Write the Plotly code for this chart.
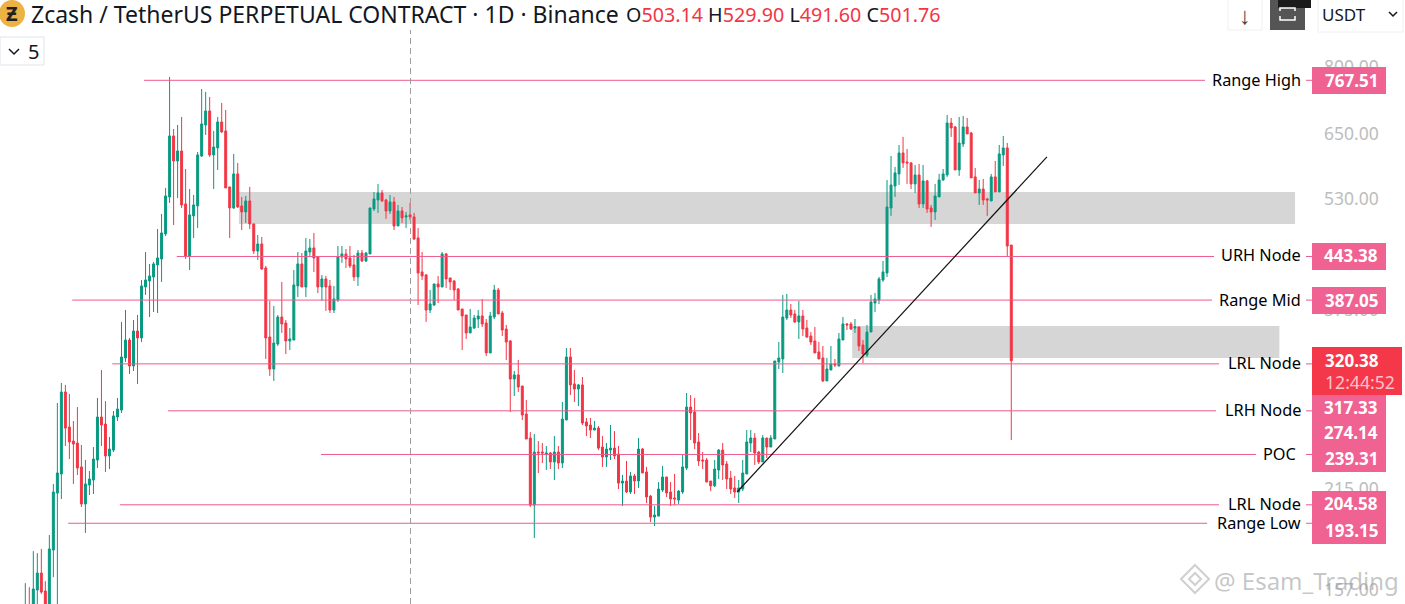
import plotly.graph_objects as go

# 1. Candles (1D, oldest first)
opens = [146.5,149.3,146.5,156.9,165.4,156.4,147.4,177.7,212.2,225.2,
 290.7,260.7,249.5,248.0,230.2,205.1,217.6,221.0,235.2,268.9,
 263.1,238.2,242.6,268.9,274.8,323.2,341.8,315.2,351.5,344.0,
 403.2,410.8,416.0,431.9,440.0,475.6,533.7,645.4,597.0,615.9,
 522.2,444.1,503.1,519.0,606.4,667.8,697.6,608.3,621.7,674.1,
 655.5,550.6,515.7,573.4,519.0,509.4,527.1,490.7,451.0,461.0,
 427.8,345.0,312.3,337.6,367.2,360.4,340.8,341.8,404.5,433.2,
 403.2,449.6,455.3,442.7,403.2,413.4,404.5,375.3,387.2,442.7,
 446.9,441.4,431.9,416.0,448.2,437.2,446.9,514.1,528.7,540.4,
 528.7,510.9,525.5,487.6,510.9,501.5,504.7,501.5,469.7,422.5,
 418.6,375.3,381.2,407.0,403.2,446.9,414.7,410.8,400.7,376.5,
 369.5,349.4,354.8,364.9,368.4,360.4,328.3,367.2,399.4,371.8,
 353.7,340.8,302.7,306.6,296.2,271.4,251.9,204.4,241.1,241.1,
 239.6,240.4,233.8,241.1,233.0,266.4,324.2,298.1,293.4,297.2,
 264.8,262.3,258.2,259.8,244.9,237.4,242.6,244.1,239.6,218.9,
 220.3,212.9,223.8,220.3,243.4,226.6,210.2,196.9,197.5,214.2,
 223.1,212.9,209.0,207.6,212.9,229.4,277.4,273.1,248.8,235.2,
 235.2,220.3,217.0,228.0,242.6,232.3,222.4,215.6,212.9,214.9,
 225.2,248.0,251.9,241.1,233.8,251.9,244.9,251.1,319.2,322.2,
 366.1,375.3,370.7,361.6,368.4,354.8,346.1,340.8,329.3,323.2,
 300.9,311.3,317.2,315.2,341.8,359.3,359.3,354.8,356.0,336.6,
 326.2,350.4,383.6,387.2,412.1,421.2,515.7,552.3,573.4,612.1,
 595.1,593.3,555.8,571.6,522.2,561.0,515.7,509.4,533.7,562.7,
 571.6,672.0,663.7,580.5,629.4,663.7,651.4,568.1,540.4,547.1,
 530.4,527.1,568.1,542.1,608.3,621.7,459.5]
highs = [160.3,158.3,177.1,176.0,178.3,161.3,186.2,218.3,280.9,299.0,
 297.2,288.9,265.6,277.4,246.5,235.2,227.3,244.9,285.3,311.3,
 282.6,252.7,274.0,285.3,361.6,375.3,344.0,363.8,369.5,412.1,
 449.6,433.2,435.9,483.0,506.2,548.9,775.6,659.5,667.8,684.7,
 582.3,547.1,537.0,614.0,747.0,740.2,728.7,655.5,684.7,715.2,
 699.7,550.6,610.2,593.3,533.7,535.4,550.6,490.7,474.1,471.2,
 430.5,386.0,380.0,369.5,409.6,363.8,354.8,425.1,449.6,448.2,
 469.7,468.2,477.1,444.1,418.6,417.3,412.1,404.5,458.1,458.1,
 453.8,458.1,445.5,452.4,452.4,449.6,515.7,542.1,555.8,545.4,
 530.4,537.0,533.7,520.6,517.3,509.4,523.8,507.8,484.6,449.6,
 419.9,399.4,407.0,417.3,449.6,448.2,414.7,412.1,402.0,376.5,
 369.5,376.5,369.5,375.3,388.4,364.9,373.0,405.8,402.0,374.2,
 358.2,341.8,310.4,321.2,296.2,283.5,256.6,255.0,249.5,248.0,
 245.7,241.1,253.4,245.7,281.8,333.4,333.4,311.3,298.1,304.6,
 268.1,268.1,265.6,261.5,253.4,248.0,262.3,257.4,245.7,224.5,
 234.5,226.6,225.2,251.9,244.1,230.2,210.9,203.8,219.6,230.9,
 223.1,219.6,225.2,214.2,238.9,289.8,288.0,285.3,255.8,241.1,
 236.7,220.3,235.2,243.4,248.0,234.5,227.3,223.8,221.0,235.2,
 258.2,258.2,255.8,241.8,254.2,251.9,254.2,320.2,339.7,393.3,
 394.5,382.4,375.3,386.0,375.3,363.8,350.4,356.0,339.7,335.5,
 323.2,335.5,322.2,349.4,367.2,360.4,361.6,364.9,356.0,341.8,
 358.2,393.3,395.7,416.0,437.2,562.7,606.4,586.0,627.5,643.4,
 619.7,595.1,589.6,591.5,589.6,562.7,520.6,555.8,573.4,582.3,
 689.0,682.6,665.8,684.7,686.9,682.6,653.5,584.2,562.7,564.5,
 532.0,573.4,597.0,627.5,645.4,631.4,459.5]
lows = [142.9,140.7,142.9,147.4,155.0,142.9,140.7,163.3,147.4,208.3,
 245.7,235.9,218.3,224.5,203.2,187.4,210.9,211.6,229.4,245.7,
 226.6,228.7,241.1,265.6,272.3,319.2,307.5,310.4,298.1,339.7,
 393.3,367.2,373.0,371.8,409.6,472.6,523.8,489.1,532.0,515.7,
 440.0,425.1,469.7,484.6,604.5,647.4,604.5,547.1,580.5,651.4,
 548.9,469.7,514.1,515.7,481.5,492.2,483.0,446.9,438.6,425.1,
 322.2,305.6,300.9,335.5,349.4,327.2,331.3,341.8,390.8,403.2,
 390.8,444.1,422.5,395.7,386.0,374.2,371.8,371.8,384.8,434.6,
 427.8,427.8,410.8,404.5,435.9,435.9,446.9,510.9,507.8,525.5,
 498.4,506.2,481.5,487.6,492.2,484.6,496.8,466.7,381.2,412.1,
 361.6,371.8,380.0,383.6,403.2,402.0,399.4,387.2,375.3,331.3,
 342.9,349.4,353.7,354.8,356.0,325.2,328.3,364.9,370.7,346.1,
 321.2,273.1,287.1,290.7,266.4,251.1,203.2,184.5,225.9,233.0,
 228.0,228.7,221.0,228.7,229.4,266.4,288.0,281.8,278.3,262.3,
 253.4,251.9,258.2,242.6,230.2,230.2,235.2,235.9,214.9,203.8,
 212.2,211.6,211.6,215.6,225.9,205.7,193.9,191.5,197.5,212.9,
 209.6,203.8,204.4,205.1,211.6,228.0,250.3,243.4,230.9,228.7,
 219.6,213.5,216.2,221.7,221.0,214.9,211.6,209.0,205.7,213.5,
 225.2,241.1,231.6,232.3,233.8,236.7,244.9,251.1,312.3,308.4,
 363.8,366.1,360.4,342.9,346.1,344.0,336.6,328.3,322.2,299.9,
 300.9,311.3,314.3,315.2,341.8,352.6,352.6,349.4,330.3,318.2,
 324.2,350.4,373.0,382.4,409.6,416.0,503.1,533.7,554.0,584.2,
 555.8,547.1,540.4,515.7,515.7,507.8,486.1,496.8,533.7,561.0,
 568.1,643.4,580.5,569.9,623.6,649.4,566.3,540.4,520.6,520.6,
 503.1,527.1,542.1,542.1,587.8,444.1,250.3]
closes = [149.7,145.1,157.4,165.4,155.9,147.4,178.3,212.9,225.9,290.7,
 259.8,248.8,247.2,229.4,205.1,218.3,221.7,235.9,268.9,262.3,
 238.2,243.4,269.8,275.7,324.2,341.8,315.2,351.5,344.0,404.5,
 412.1,417.3,433.2,441.4,477.1,535.4,645.4,597.0,615.9,520.6,
 444.1,504.7,520.6,608.3,670.0,697.6,608.3,623.6,674.1,653.5,
 548.9,515.7,573.4,517.3,509.4,527.1,490.7,451.0,461.0,426.5,
 344.0,312.3,338.6,367.2,359.3,340.8,342.9,405.8,433.2,403.2,
 451.0,455.3,441.4,403.2,413.4,403.2,375.3,388.4,442.7,446.9,
 440.0,430.5,416.0,448.2,437.2,448.2,515.7,530.4,540.4,527.1,
 510.9,525.5,487.6,510.9,500.0,503.1,501.5,468.2,421.2,417.3,
 375.3,382.4,407.0,403.2,446.9,413.4,409.6,399.4,375.3,368.4,
 349.4,356.0,366.1,368.4,359.3,328.3,368.4,399.4,370.7,352.6,
 339.7,302.7,306.6,295.3,270.6,251.1,204.4,241.1,240.4,240.4,
 240.4,233.8,241.1,233.0,267.2,324.2,297.2,293.4,297.2,263.9,
 261.5,258.2,259.8,244.1,237.4,243.4,244.1,238.2,218.9,220.3,
 212.9,223.8,220.3,243.4,225.9,209.6,196.9,198.2,214.9,223.1,
 212.2,208.3,208.3,213.5,230.2,277.4,272.3,248.0,234.5,234.5,
 219.6,217.0,228.7,242.6,231.6,221.7,214.9,212.9,215.6,225.9,
 248.8,251.9,240.4,233.8,251.9,244.9,251.9,320.2,323.2,367.2,
 375.3,369.5,361.6,368.4,353.7,345.0,339.7,328.3,322.2,300.9,
 312.3,317.2,316.2,342.9,359.3,358.2,353.7,356.0,335.5,327.2,
 350.4,384.8,388.4,413.4,422.5,517.3,554.0,575.2,612.1,593.3,
 593.3,555.8,571.6,522.2,561.0,514.1,509.4,535.4,562.7,573.4,
 672.0,661.7,580.5,631.4,663.7,649.4,566.3,540.4,547.1,528.7,
 528.7,568.1,542.1,610.2,621.7,458.1,320.38]

# 2. Drawn levels
level_names = ["Range High", "URH Node", "Range Mid", "LRL Node", "LRH Node", "POC", "LRL Node", "Range Low"]
level_prices = [767.51, 443.38, 387.05, 317.33, 274.14, 239.31, 204.58, 193.15]
level_start_bars = [29.6, 37.8, 11.7, 21.7, 35.6, 73.8, 23.6, 10.7]

price_ticks = [800, 650, 530, 375, 215, 157]
zone_prices = [(490.7, 542.1), (323.2, 357.1)]
zone_start_bars = [53.3, 206.3]
zone_end_bars = [316.8, 312.9]
trend_bars = [177.6, 254.9]
trend_prices = [212.9, 604.5]
last_price = 320.38
countdown = "12:44:52"

GREEN = "#089981"
RED = "#F23645"
PINK = "#F06292"
LINE_PINK = "#EE5A8C"
FONT = "Noto Sans"

# chart geometry in page pixels
PLOT_W = 1320
PLOT_H = 604
BAR0_PX = 25.3
BAR_PX = 4.008


def bar_at(px):
    return (px - BAR0_PX) / BAR_PX


def fx(px):
    return px / PLOT_W


def fy(py):
    return 1 - py / PLOT_H


fig = go.Figure()
fig.add_trace(go.Candlestick(
    x=list(range(len(opens))), open=opens, high=highs, low=lows, close=closes,
    increasing=dict(line=dict(color=GREEN, width=1), fillcolor=GREEN),
    decreasing=dict(line=dict(color=RED, width=1), fillcolor=RED),
    whiskerwidth=0, hoverinfo="skip", showlegend=False,
))

# level rays, with the short tick that sits in front of the price tag
level_end_px = [1205, 1214, 1212, 1219, 1216, 1256, 1219, 1207]
for start, price, end_px in zip(level_start_bars, level_prices, level_end_px):
    fig.add_trace(go.Scatter(x=[start, bar_at(end_px)], y=[price, price], mode="lines",
                             line=dict(color=LINE_PINK, width=1), hoverinfo="skip", showlegend=False))
    fig.add_trace(go.Scatter(x=[bar_at(1306), bar_at(1312)], y=[price, price], mode="lines",
                             line=dict(color=LINE_PINK, width=1), hoverinfo="skip", showlegend=False))

fig.add_trace(go.Scatter(x=trend_bars, y=trend_prices, mode="lines",
                         line=dict(color="#111111", width=1.2), hoverinfo="skip", showlegend=False))

shapes = []
for (lo, hi), b0, b1 in zip(zone_prices, zone_start_bars, zone_end_bars):
    shapes.append(dict(type="rect", xref="x", yref="y", x0=b0, x1=b1, y0=lo, y1=hi,
                       fillcolor="#D6D6D6", line_width=0, layer="below"))

# crosshair
shapes.append(dict(type="line", xref="x", yref="paper", x0=bar_at(410.5), x1=bar_at(410.5), y0=0, y1=fy(30),
                   line=dict(color="#9E9E9E", width=1, dash="6px,4px")))


def box(x0, y0, x1, y1, fill, line="rgba(0,0,0,0)", width=0):
    shapes.append(dict(type="rect", xref="paper", yref="paper", x0=fx(x0), x1=fx(x1), y0=fy(y1), y1=fy(y0),
                       fillcolor=fill, line=dict(color=line, width=width)))


def path(points, color, width=1.5, fill=None):
    d = "M " + " L ".join(f"{fx(x)},{fy(y)}" for x, y in points)
    if fill:
        d += " Z"
    shapes.append(dict(type="path", xref="paper", yref="paper", path=d, fillcolor=fill,
                       line=dict(color=color, width=width)))


annotations = []


def label(text, x, y, size, color="#131722", anchor="left"):
    annotations.append(dict(text=text, xref="paper", yref="paper", x=fx(x), y=fy(y), xanchor=anchor, yanchor="middle",
                            showarrow=False, font=dict(family=FONT, size=size, color=color)))


# price tags on the right
level_tag_boxes = [(67, 94), (243, 270), (287, 314), (394, 421), (421, 447), (447, 472), (491, 518), (518, 544)]
level_tag_ys = [80, 256, 300, 407.5, 432.5, 458.5, 503.5, 530]
level_label_ys = [79.5, 255.5, 299.5, 362.5, 409.5, 453.5, 503.5, 522.5]
for name, price, (t, b), ty, ly in zip(level_names, level_prices, level_tag_boxes, level_tag_ys, level_label_ys):
    box(1312, t, 1386, b, PINK)
    label(f"<b>{price:.2f}</b>", 1351, ty, 17, "white", "center")
    label(name, 1298 if name == "POC" else 1303, ly, 16.3, "#000000", "right")

box(1312, 347, 1402, 395, "#F4384A")
label(f"<b>{last_price:.2f}</b>", 1323, 360.5, 17, "white")
label(countdown, 1323, 382, 17.6, "#FBC4CA")

# header and small chart buttons
shapes.append(dict(type="circle", xref="paper", yref="paper", x0=fx(-1), x1=fx(25), y0=fy(27), y1=fy(0),
                   fillcolor="#ECB244", line_width=0))
label("<b>Ƶ</b>", 12, 13, 20, "#222222", "center")
label("Zcash / TetherUS PERPETUAL CONTRACT · 1D · Binance", 29, 14, 23, "#131722")
label(f"O<span style='color:{RED}'>503.14</span> H<span style='color:{RED}'>529.90</span> "
      f"L<span style='color:{RED}'>491.60</span> C<span style='color:{RED}'>501.76</span>", 624, 14, 19.7)

box(0, 37, 44, 65, "white", "#E0E3EB", 1)
path([(9, 49), (14, 54), (19, 49)], "#131722")
label("5", 33, 51, 20, "#131722", "center")

box(1228, -6, 1262, 30, "white", "#F0F0F0", 1)
label("↓", 1245, 14, 24, "#444444", "center")
box(1270, -6, 1305, 30, "#555555")
box(1278, 0, 1311, 8, "#1B1B1B")
path([(1280, 11), (1280, 8), (1295, 8), (1295, 11)], "white")
path([(1280, 16), (1280, 20), (1295, 20), (1295, 16)], "white")
box(1318, -6, 1403, 32, "white", "#F0F0F0", 1)
label("USDT", 1320, 14, 17, "#131722")
path([(1389, 12), (1393, 16), (1397, 12)], "#131722")

# watermark
label("@ Esam_Trading", 1212, 580, 24, "rgba(150,150,150,0.55)")
path([(1195, 565), (1209, 579), (1195, 593), (1181, 579)], "rgba(170,170,170,0.55)", 2, "rgba(255,255,255,0)")
path([(1195, 573), (1201, 579), (1195, 585), (1189, 579)], "rgba(170,170,170,0.55)", 2, "rgba(255,255,255,0)")

fig.update_layout(
    width=1405, height=604,
    margin=dict(l=0, r=1405 - PLOT_W, t=0, b=0),
    paper_bgcolor="white", plot_bgcolor="white",
    showlegend=False, shapes=shapes, annotations=annotations,
    xaxis=dict(range=[bar_at(0), bar_at(PLOT_W)], visible=False, rangeslider=dict(visible=False)),
    yaxis=dict(type="log", side="right", range=[2.17667, 2.99371], showgrid=False, zeroline=False,
               showline=False, tickmode="array", tickvals=price_ticks,
               ticktext=[f"{t:.2f}" for t in price_ticks], ticks="", ticklabelstandoff=3,
               tickfont=dict(family=FONT, size=17.5, color="#BDBDBD"), autorange=False),
)

fig.write_html("out.html", config=dict(displayModeBar=False),
               post_script="document.body.style.margin='0';")
